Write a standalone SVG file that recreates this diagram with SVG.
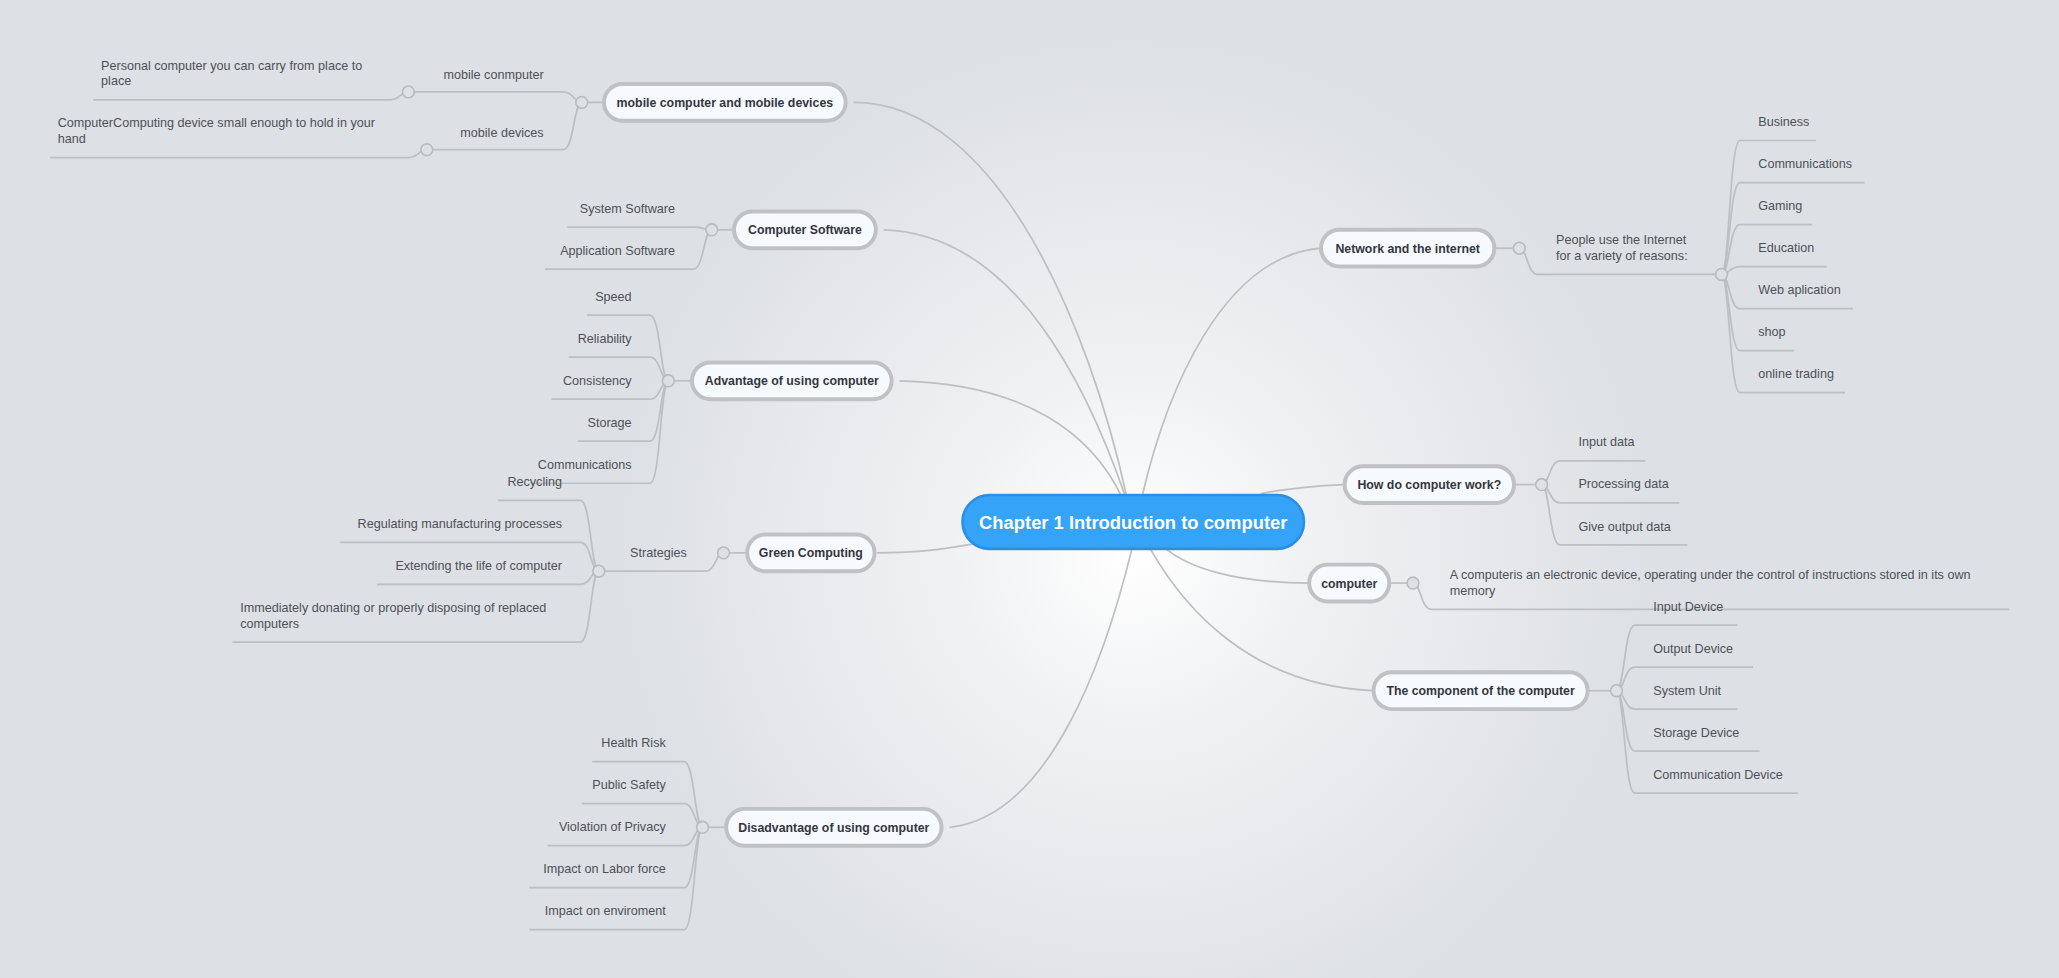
<svg xmlns="http://www.w3.org/2000/svg" width="2059" height="978" viewBox="0 0 2059 978">
<defs>
<radialGradient id="bg" cx="1132" cy="551" r="520" gradientUnits="userSpaceOnUse">
<stop offset="0" stop-color="#ffffff"/><stop offset="0.35" stop-color="#f0f1f3"/><stop offset="1" stop-color="#dde0e4"/>
</radialGradient>
<style>
.n rect{fill:#f6f9fd;stroke:#bfc1c4;stroke-width:3}
.n text{font-family:"Liberation Sans",Arial,sans-serif;font-weight:bold;font-size:9.4px;fill:#33373d;text-anchor:middle}
.c path,.c line{fill:none;stroke:#bdbfc2;stroke-width:1.3}
.j{fill:#dde0e4;stroke:#b9bbbe;stroke-width:1.2}
.t{font-family:"Liberation Sans",Arial,sans-serif;font-size:9.6px;fill:#4d5157}
.e{text-anchor:end}
</style>
</defs>
<rect width="2059" height="978" fill="url(#bg)"/>
<g transform="scale(1.31314)">
<g id="connectors" class="c">
<path d="M650 78 C760 78 830 250 858 378"/>
<path d="M673 175 C775 178 830 300 857 378"/>
<path d="M685 290 C780 292 832 330 855 380"/>
<path d="M668 421 C700 421 720 418 748 413"/>
<path d="M723 630 C800 622 842 500 862 418"/>
<path d="M1006 189 C930 195 888 300 870 377"/>
<path d="M1024 369 C1000 370 980 372 960 376"/>
<path d="M997 444 C940 444 905 432 888 418"/>
<path d="M1046 526 C950 522 900 460 876 418"/>
<line x1="443" y1="78" x2="460" y2="78"/>
<line x1="542" y1="175" x2="559" y2="175"/>
<line x1="509" y1="290" x2="527" y2="290"/>
<line x1="551" y1="421" x2="569" y2="421"/>
<line x1="535" y1="630" x2="553" y2="630"/>
<line x1="1138" y1="189" x2="1157" y2="189"/>
<line x1="1153" y1="369" x2="1174" y2="369"/>
<line x1="1058" y1="444" x2="1076" y2="444"/>
<line x1="1209" y1="526" x2="1231" y2="526"/>
<path d="M311 70 H429 C437 70 437 78 443 78"/>
<path d="M71 76 H297 C305 76 305 70 311 70"/>
<path d="M325 114 H429 C437 114 437 78 443 78"/>
<path d="M38 120 H311 C319 120 319 114 325 114"/>
<path d="M432 173 H528 C536 173 536 175 542 175"/>
<path d="M415 205 H528 C536 205 536 175 542 175"/>
<path d="M447 240 H495 C503 240 503 290 509 290"/>
<path d="M433 272 H495 C503 272 503 290 509 290"/>
<path d="M420 304 H495 C503 304 503 290 509 290"/>
<path d="M440 336 H495 C503 336 503 290 509 290"/>
<path d="M404 368 H495 C503 368 503 290 509 290"/>
<path d="M456 435 H537 C545 435 545 421 551 421"/>
<path d="M379 381 H442 C450 381 450 435 456 435"/>
<path d="M259 413 H442 C450 413 450 435 456 435"/>
<path d="M287 445 H442 C450 445 450 435 456 435"/>
<path d="M177 489 H442 C450 489 450 435 456 435"/>
<path d="M451 580 H521 C529 580 529 630 535 630"/>
<path d="M443 612 H521 C529 612 529 630 535 630"/>
<path d="M417 644 H521 C529 644 529 630 535 630"/>
<path d="M403 676 H521 C529 676 529 630 535 630"/>
<path d="M403 708 H521 C529 708 529 630 535 630"/>
<path d="M1157 189 C1163 189 1163 209 1171 209 H1311"/>
<path d="M1311 209 C1317 209 1317 107 1325 107 H1383"/>
<path d="M1311 209 C1317 209 1317 139 1325 139 H1420"/>
<path d="M1311 209 C1317 209 1317 171 1325 171 H1380"/>
<path d="M1311 209 C1317 209 1317 203 1325 203 H1391"/>
<path d="M1311 209 C1317 209 1317 235 1325 235 H1411"/>
<path d="M1311 209 C1317 209 1317 267 1325 267 H1366"/>
<path d="M1311 209 C1317 209 1317 299 1325 299 H1405"/>
<path d="M1174 369 C1180 369 1180 351 1188 351 H1253"/>
<path d="M1174 369 C1180 369 1180 383 1188 383 H1279"/>
<path d="M1174 369 C1180 369 1180 415 1188 415 H1285"/>
<path d="M1076 444 C1082 444 1082 464 1090 464 H1530"/>
<path d="M1231 526 C1237 526 1237 476 1245 476 H1323"/>
<path d="M1231 526 C1237 526 1237 508 1245 508 H1335"/>
<path d="M1231 526 C1237 526 1237 540 1245 540 H1323"/>
<path d="M1231 526 C1237 526 1237 572 1245 572 H1340"/>
<path d="M1231 526 C1237 526 1237 604 1245 604 H1369"/>
</g>
<g id="junctions">
<circle class="j" cx="443" cy="78" r="4.5"/><circle class="j" cx="311" cy="70" r="4.5"/><circle class="j" cx="325" cy="114" r="4.5"/>
<circle class="j" cx="542" cy="175" r="4.5"/><circle class="j" cx="509" cy="290" r="4.5"/>
<circle class="j" cx="551" cy="421" r="4.5"/><circle class="j" cx="456" cy="435" r="4.5"/>
<circle class="j" cx="535" cy="630" r="4.5"/><circle class="j" cx="1157" cy="189" r="4.5"/>
<circle class="j" cx="1311" cy="209" r="4.5"/><circle class="j" cx="1174" cy="369" r="4.5"/>
<circle class="j" cx="1076" cy="444" r="4.5"/><circle class="j" cx="1231" cy="526" r="4.5"/>
</g>
<g id="center"><rect x="733" y="377" width="260" height="41" rx="20.5" fill="#35a3f7" stroke="#2b8fe6" stroke-width="2"/>
<text x="863" y="402.5" font-family="Liberation Sans,Arial,sans-serif" font-weight="bold" font-size="14" fill="#fff" text-anchor="middle">Chapter 1 Introduction to computer</text></g>
<g id="n-mobile" class="n"><rect x="460" y="64" width="184" height="28" rx="14"/><text x="552" y="81.5">mobile computer and mobile devices</text></g>
<g id="n-software" class="n"><rect x="559" y="161" width="108" height="28" rx="14"/><text x="613" y="178.5">Computer Software</text></g>
<g id="n-advantage" class="n"><rect x="527" y="276" width="152" height="28" rx="14"/><text x="603" y="293.5">Advantage of using computer</text></g>
<g id="n-green" class="n"><rect x="569" y="407" width="97" height="28" rx="14"/><text x="617.5" y="424.5">Green Computing</text></g>
<g id="n-disadvantage" class="n"><rect x="553" y="616" width="164" height="28" rx="14"/><text x="635" y="633.5">Disadvantage of using computer</text></g>
<g id="n-network" class="n"><rect x="1006" y="175" width="132" height="28" rx="14"/><text x="1072" y="192.5">Network and the internet</text></g>
<g id="n-how" class="n"><rect x="1024" y="355" width="129" height="28" rx="14"/><text x="1088.5" y="372.5">How do computer work?</text></g>
<g id="n-computer" class="n"><rect x="997" y="430" width="61" height="28" rx="14"/><text x="1027.5" y="447.5">computer</text></g>
<g id="n-component" class="n"><rect x="1046" y="512" width="163" height="28" rx="14"/><text x="1127.5" y="529.5">The component of the computer</text></g>
<g id="labels">
<text class="t e" x="414" y="60">mobile conmputer</text>
<text class="t" x="77" y="53">Personal computer you can carry from place to</text><text class="t" x="77" y="65">place</text>
<text class="t e" x="414" y="104">mobile devices</text>
<text class="t" x="44" y="97">ComputerComputing device small enough to hold in your</text><text class="t" x="44" y="109">hand</text>
<text class="t e" x="514" y="162">System Software</text>
<text class="t e" x="514" y="194">Application Software</text>
<text class="t e" x="481" y="229">Speed</text>
<text class="t e" x="481" y="261">Reliability</text>
<text class="t e" x="481" y="293">Consistency</text>
<text class="t e" x="481" y="325">Storage</text>
<text class="t e" x="481" y="357">Communications</text>
<text class="t e" x="523" y="424">Strategies</text>
<text class="t e" x="428" y="370">Recycling</text>
<text class="t e" x="428" y="402">Regulating manufacturing processes</text>
<text class="t e" x="428" y="434">Extending the life of computer</text>
<text class="t" x="183" y="466">Immediately donating or properly disposing of replaced</text><text class="t" x="183" y="478">computers</text>
<text class="t e" x="507" y="569">Health Risk</text>
<text class="t e" x="507" y="601">Public Safety</text>
<text class="t e" x="507" y="633">Violation of Privacy</text>
<text class="t e" x="507" y="665">Impact on Labor force</text>
<text class="t e" x="507" y="697">Impact on enviroment</text>
<text class="t" x="1185" y="186">People use the Internet</text><text class="t" x="1185" y="198">for a variety of reasons:</text>
<text class="t" x="1339" y="96">Business</text>
<text class="t" x="1339" y="128">Communications</text>
<text class="t" x="1339" y="160">Gaming</text>
<text class="t" x="1339" y="192">Education</text>
<text class="t" x="1339" y="224">Web aplication</text>
<text class="t" x="1339" y="256">shop</text>
<text class="t" x="1339" y="288">online trading</text>
<text class="t" x="1202" y="340">Input data</text>
<text class="t" x="1202" y="372">Processing data</text>
<text class="t" x="1202" y="404">Give output data</text>
<text class="t" x="1104" y="441">A computeris an electronic device, operating under the control of instructions stored in its own</text><text class="t" x="1104" y="453">memory</text>
<text class="t" x="1259" y="465">Input Device</text>
<text class="t" x="1259" y="497">Output Device</text>
<text class="t" x="1259" y="529">System Unit</text>
<text class="t" x="1259" y="561">Storage Device</text>
<text class="t" x="1259" y="593">Communication Device</text>
</g>
</g>
</svg>
